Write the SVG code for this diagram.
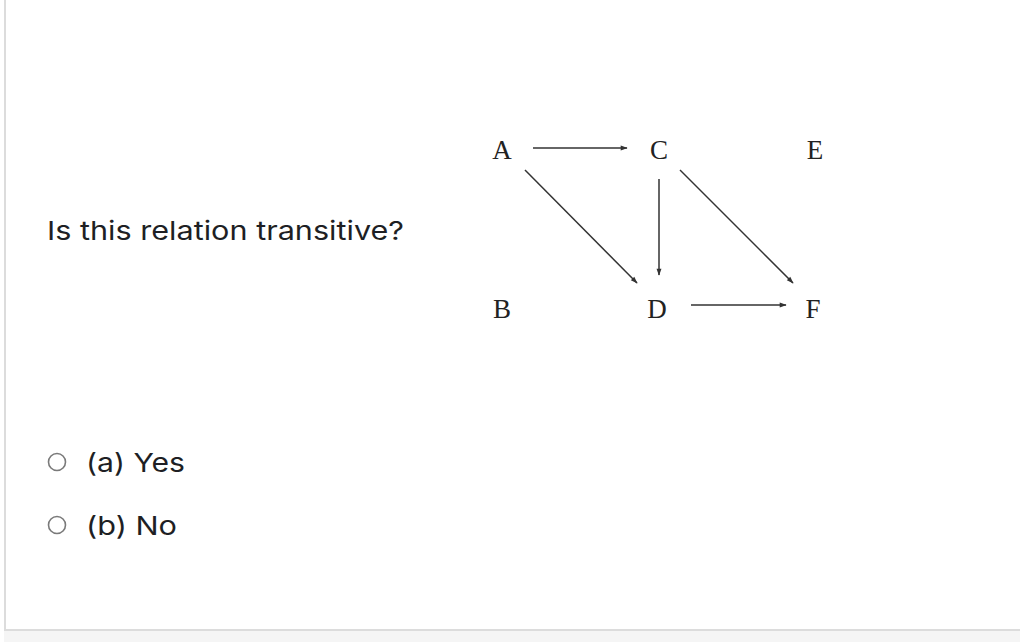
<svg xmlns="http://www.w3.org/2000/svg" width="1020" height="642" viewBox="0 0 1020 642">
<defs>
<style>
.q{font-family:Inter,"Liberation Sans",Arial,sans-serif;font-size:26px;fill:#1e1f24}
.n{font-family:"Liberation Serif","Times New Roman",serif;font-size:27px;fill:#222;text-anchor:middle}
.e{stroke:#333;stroke-width:1.5;fill:none;marker-end:url(#ah)}
.r{fill:#fff;stroke:#7a7a7a;stroke-width:1.6}
</style>
<marker id="ah" viewBox="0 0 10 10" refX="9" refY="5" markerWidth="8" markerHeight="7" orient="auto" markerUnits="userSpaceOnUse">
<path d="M0,1.5 L10,5 L0,8.5 z" fill="#333"/>
</marker>
</defs>
<rect x="0" y="0" width="1020" height="642" fill="#fff"/>
<rect x="4" y="0" width="2" height="630" fill="#dcdcdc"/>
<rect x="4" y="630" width="1016" height="12" fill="#f5f5f5"/>
<rect x="4" y="629" width="1016" height="2" fill="#dcdcdc"/>
<text class="q" x="47" y="240" textLength="357" lengthAdjust="spacingAndGlyphs">Is this relation transitive?</text>
<g id="optA"><circle class="r" cx="57" cy="462" r="8.5"/><text class="q" x="86" y="472" textLength="99" lengthAdjust="spacingAndGlyphs">(a) Yes</text></g>
<g id="optB"><circle class="r" cx="57" cy="525" r="8.5"/><text class="q" x="86" y="535" textLength="91" lengthAdjust="spacingAndGlyphs">(b) No</text></g>
<g id="connectors">
<line class="e" x1="533" y1="148" x2="627" y2="148"/>
<line class="e" x1="525" y1="170" x2="637" y2="283"/>
<line class="e" x1="659" y1="179" x2="659" y2="275"/>
<line class="e" x1="680" y1="170" x2="793" y2="283"/>
<line class="e" x1="691" y1="305" x2="786" y2="305"/>
</g>
<g id="A"><text class="n" x="502" y="159">A</text></g>
<g id="C"><text class="n" x="659" y="159">C</text></g>
<g id="E"><text class="n" x="815" y="159">E</text></g>
<g id="B"><text class="n" x="502" y="318">B</text></g>
<g id="D"><text class="n" x="657" y="318">D</text></g>
<g id="F"><text class="n" x="813" y="318">F</text></g>
</svg>
